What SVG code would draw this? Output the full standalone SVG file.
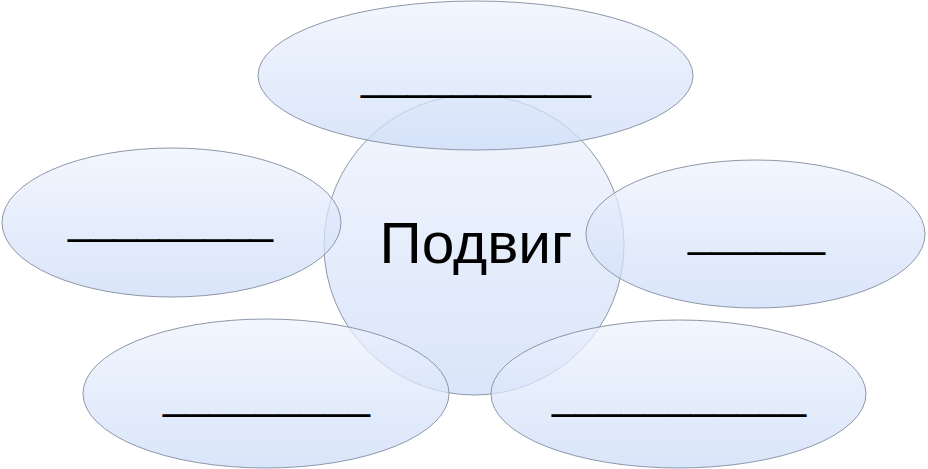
<svg xmlns="http://www.w3.org/2000/svg" width="928" height="469" viewBox="0 0 928 469">
  <defs>
    <linearGradient id="g" x1="0" y1="0" x2="0" y2="1">
      <stop offset="0" stop-color="#eef3fe"/>
      <stop offset="1" stop-color="#cbdbf7"/>
    </linearGradient>
  </defs>
  <style>
    .shape { fill: url(#g); fill-opacity: 0.72; stroke: #8e97a8; stroke-width: 1; }
    .blank { font-family: "Liberation Sans", Arial, sans-serif; font-size: 44px; fill: #000; text-anchor: start; }
    .main { font-family: "Liberation Sans", Arial, sans-serif; font-size: 58px; fill: #000; text-anchor: middle; }
  </style>
  <rect width="928" height="469" fill="#ffffff"/>
  <g id="center">
    <circle class="shape" cx="474" cy="245" r="150"/>
  </g>
  <g id="top">
    <ellipse class="shape" cx="475.5" cy="75.5" rx="217.5" ry="74.5"/>
    <text class="blank" x="361" y="89" textLength="230" lengthAdjust="spacingAndGlyphs">__________</text>
  </g>
  <g id="left">
    <ellipse class="shape" cx="171.5" cy="222.5" rx="169.5" ry="74.5"/>
    <text class="blank" x="68" y="233" textLength="205" lengthAdjust="spacingAndGlyphs">_________</text>
  </g>
  <g id="right">
    <ellipse class="shape" cx="755.5" cy="234" rx="169.5" ry="74"/>
    <text class="blank" x="688" y="246" textLength="137" lengthAdjust="spacingAndGlyphs">______</text>
  </g>
  <g id="bottom-left">
    <ellipse class="shape" cx="266" cy="393.5" rx="183" ry="74.5"/>
    <text class="blank" x="163" y="408" textLength="207" lengthAdjust="spacingAndGlyphs">_________</text>
  </g>
  <g id="bottom-right">
    <ellipse class="shape" cx="678.5" cy="394" rx="187.5" ry="74"/>
    <text class="blank" x="552" y="408" textLength="254" lengthAdjust="spacingAndGlyphs">___________</text>
  </g>
  <g id="center-label">
    <text class="main" x="476" y="263" textLength="193" lengthAdjust="spacingAndGlyphs">Подвиг</text>
  </g>
  <g id="connectors"/>
</svg>
